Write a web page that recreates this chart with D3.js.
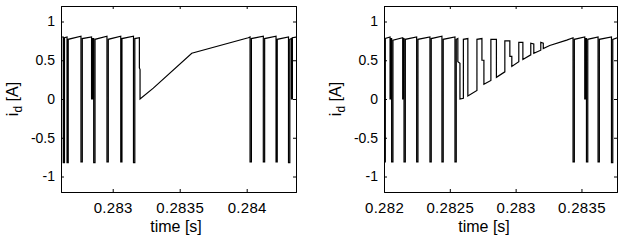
<!DOCTYPE html>
<html>
<head>
<meta charset="utf-8">
<script src="https://cdn.jsdelivr.net/npm/d3@7"></script>
<style>
  body { margin: 0; background: #fff; }
  svg { display: block; }
  text { font-family: "Liberation Sans", Arial, sans-serif; fill: #000; }
</style>
</head>
<body>
<div id="graph"></div>
<script>
// left panel: time [s] and i_d [A] vertices
var leftT = [0.282614,
  0.282631, 0.282631, 0.282640, 0.282640,
  0.282659, 0.282659, 0.282668, 0.282668,
  0.282763, 0.282763, 0.282773, 0.282773,
  0.282842, 0.282842, 0.282849, 0.282849,
  0.282858, 0.282858, 0.282868, 0.282868,
  0.282957, 0.282957, 0.282967, 0.282967,
  0.283060, 0.283060, 0.283069, 0.283069,
  0.283155, 0.283155, 0.283165, 0.283165,
  0.283199, 0.283199, 0.283204, 0.283204,
  0.283303, 0.283590, 0.284012,
  0.284025, 0.284025, 0.284035, 0.284035,
  0.284124, 0.284124, 0.284134, 0.284134,
  0.284219, 0.284219, 0.284228, 0.284228,
  0.284312, 0.284312, 0.284322, 0.284322,
  0.284334, 0.284334, 0.284341, 0.284341,
  0.284370];
var leftI = [0.80,
  0.80, -0.82, -0.82, 0.79,
  0.80, -0.82, -0.82, 0.77,
  0.81, -0.81, -0.81, 0.78,
  0.80, 0.00, 0.00, 0.78,
  0.78, -0.82, -0.82, 0.77,
  0.81, -0.81, -0.81, 0.77,
  0.81, -0.81, -0.81, 0.78,
  0.81, -0.82, -0.82, 0.78,
  0.79, 0.40, 0.38, 0.00,
  0.14, 0.59, 0.79,
  0.80, -0.81, -0.81, 0.78,
  0.81, -0.81, -0.81, 0.78,
  0.81, -0.81, -0.81, 0.77,
  0.80, -0.82, -0.82, 0.77,
  0.78, 0.00, 0.00, 0.79,
  0.80];

// right panel
var rightT = [0.282000,
  0.282003, 0.282003, 0.282010, 0.282010,
  0.282046, 0.282046, 0.282053, 0.282053,
  0.282058, 0.282058, 0.282068, 0.282068,
  0.282142, 0.282142, 0.282149, 0.282149,
  0.282152, 0.282152, 0.282162, 0.282162,
  0.282248, 0.282248, 0.282258, 0.282258,
  0.282349, 0.282349, 0.282359, 0.282359,
  0.282440, 0.282440, 0.282450, 0.282450,
  0.282539, 0.282539, 0.282549, 0.282549,
  0.282561, 0.282561, 0.282577, 0.282577,
  0.282603, 0.282603, 0.282637, 0.282637,
  0.282706, 0.282706, 0.282744, 0.282744, 0.282759, 0.282759,
  0.282812, 0.282812, 0.282854, 0.282854,
  0.282918, 0.282918, 0.282956, 0.282956, 0.282971, 0.282971,
  0.283024, 0.283024, 0.283055, 0.283055,
  0.283115, 0.283115, 0.283138, 0.283138,
  0.283191, 0.283191, 0.283210, 0.283210,
  0.283259, 0.283388, 0.283436,
  0.283436, 0.283446, 0.283446,
  0.283525, 0.283525, 0.283533, 0.283533,
  0.283538, 0.283538, 0.283548, 0.283548,
  0.283626, 0.283626, 0.283636, 0.283636,
  0.283728, 0.283728, 0.283738, 0.283738,
  0.283775];
var rightI = [0.79,
  0.79, -0.81, -0.81, 0.78,
  0.80, 0.00, 0.00, 0.78,
  0.78, -0.81, -0.81, 0.76,
  0.79, 0.00, 0.00, 0.78,
  0.78, -0.81, -0.81, 0.77,
  0.80, -0.81, -0.81, 0.77,
  0.80, -0.81, -0.81, 0.78,
  0.81, -0.81, -0.81, 0.77,
  0.80, -0.81, -0.81, 0.77,
  0.78, 0.48, 0.46, 0.00,
  0.01, 0.77, 0.78, 0.04,
  0.11, 0.77, 0.78, 0.50, 0.50, 0.19,
  0.24, 0.77, 0.77, 0.28,
  0.35, 0.75, 0.75, 0.55, 0.55, 0.42,
  0.48, 0.73, 0.73, 0.51,
  0.57, 0.72, 0.71, 0.59,
  0.63, 0.73, 0.72, 0.65,
  0.69, 0.76, 0.79,
  -0.81, -0.81, 0.77,
  0.80, 0.00, 0.00, 0.78,
  0.78, -0.81, -0.81, 0.77,
  0.80, -0.81, -0.81, 0.77,
  0.80, -0.82, -0.82, 0.77,
  0.79];

var leftTicks = [0.283, 0.2835, 0.284];
var rightTicks = [0.282, 0.2825, 0.283, 0.2835];
var yTicks = [-1, -0.5, 0, 0.5, 1];

var svg = d3.select('#graph')
    .append('svg')
    .attr('width', 624)
    .attr('height', 244);

function panel(id, box, xdom, ts, is, xticks, xlabX, ylabX) {
    var x = d3.scaleLinear().domain(xdom).range([box.x0, box.x1]);
    var y = d3.scaleLinear().domain([-1.2, 1.2]).range([box.y1, box.y0]);

    svg.append('clipPath').attr('id', id)
        .append('rect')
        .attr('x', box.x0).attr('y', box.y0)
        .attr('width', box.x1 - box.x0).attr('height', box.y1 - box.y0);

    var pts = ts.map(function(t, k) { return [t, is[k]]; });
    var line = d3.line()
        .x(function(d) { return x(d[0]); })
        .y(function(d) { return y(d[1]); });

    svg.append('path')
        .datum(pts)
        .attr('clip-path', 'url(#' + id + ')')
        .attr('d', line)
        .attr('fill', 'none')
        .attr('stroke', '#000')
        .attr('stroke-width', 1.2);

    var fmt = function(d) { return String(d); };

    var bottom = svg.append('g')
        .attr('transform', 'translate(0,' + box.y1 + ')')
        .call(d3.axisBottom(x).tickValues(xticks).tickSize(-3).tickPadding(10).tickFormat(fmt));
    bottom.selectAll('text').attr('font-size', 15).attr('letter-spacing', 0.3);

    svg.append('g')
        .attr('transform', 'translate(0,' + box.y0 + ')')
        .call(d3.axisTop(x).tickValues(xticks).tickSize(-3).tickFormat(''));

    var left = svg.append('g')
        .attr('transform', 'translate(' + box.x0 + ',0)')
        .call(d3.axisLeft(y).tickValues(yTicks).tickSize(-3).tickPadding(6).tickFormat(fmt));
    left.selectAll('text').attr('font-size', 14);

    svg.append('g')
        .attr('transform', 'translate(' + box.x1 + ',0)')
        .call(d3.axisRight(y).tickValues(yTicks).tickSize(-3).tickFormat(''));

    svg.selectAll('.domain').attr('stroke', '#000');
    svg.selectAll('.tick line').attr('stroke', '#000');
    svg.selectAll('.tick text').attr('font-family', '"Liberation Sans", Arial, sans-serif').attr('fill', '#000');

    svg.append('text')
        .attr('x', xlabX)
        .attr('y', 232)
        .attr('text-anchor', 'middle')
        .attr('font-size', 16)
        .text('time [s]');

    var yl = svg.append('text')
        .attr('transform', 'translate(' + ylabX + ',' + ((box.y0 + box.y1) / 2) + ') rotate(-90)')
        .attr('text-anchor', 'middle')
        .attr('font-size', 16);
    yl.append('tspan').text('i');
    yl.append('tspan').attr('font-size', 12).attr('dy', 4).text('d');
    yl.append('tspan').attr('dy', -4).text(' [A]');
}

panel('clipL', {x0: 61, x1: 296, y0: 6, y1: 192}, [0.282614, 0.284368],
      leftT, leftI, leftTicks, 176, 18);
panel('clipR', {x0: 384, x1: 617, y0: 6, y1: 192}, [0.282, 0.28377],
      rightT, rightI, rightTicks, 484, 341);
</script>
</body>
</html>
